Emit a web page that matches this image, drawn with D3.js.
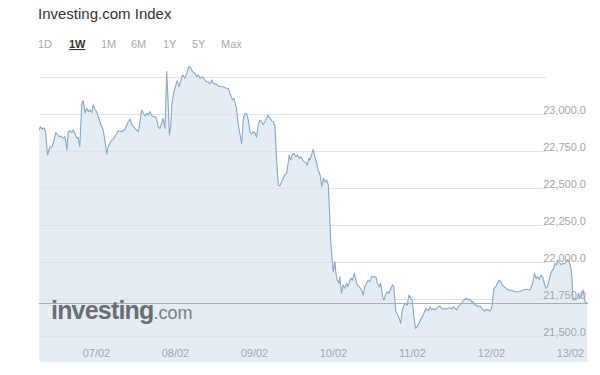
<!DOCTYPE html>
<html>
<head>
<meta charset="utf-8">
<script src="https://cdn.jsdelivr.net/npm/d3@7"></script>
<style>
  body { margin: 0; background: #fff; }
  svg { display: block; }
</style>
</head>
<body>
<script>
// hours since 06/02 00:00
var hours = [
  6.8, 7.1, 7.7, 8.2, 8.7, 9.3, 10.0, 10.7, 11.3, 11.8, 12.4, 12.8,
  13.4, 14.1, 14.6, 15.2, 15.6, 16.1, 16.6, 17.1, 17.6, 18.2, 18.6, 19.1,
  19.7, 20.1, 20.7, 21.2, 21.7, 22.2, 22.7, 23.2, 23.7, 24.2, 25.2, 26.2,
  26.7, 27.3, 27.7, 28.3, 28.8, 29.3, 29.8, 30.8, 31.8, 32.8, 33.6, 34.3,
  35.0, 35.8, 36.4, 36.9, 37.9, 38.4, 38.9, 39.4, 39.9, 40.4, 40.9, 41.4,
  41.9, 42.4, 42.9, 43.4, 44.0, 44.4, 45.0, 45.5, 45.9, 46.3, 46.7, 47.1,
  47.7, 48.3, 48.7, 49.3, 49.7, 50.3, 51.0, 51.6, 52.2, 52.8, 53.4, 54.1,
  54.6, 55.1, 55.6, 56.4, 57.1, 57.6, 58.1, 58.6, 59.2, 59.6, 60.5, 61.2,
  61.9, 62.7, 63.5, 64.2, 64.7, 65.5, 65.9, 66.7, 67.2, 67.7, 68.3, 68.8,
  69.3, 69.8, 70.3, 70.8, 71.3, 71.8, 72.3, 72.8, 73.3, 73.8, 74.3, 74.8,
  75.3, 75.9, 76.3, 76.9, 77.4, 77.9, 78.4, 78.9, 79.4, 79.9, 80.4, 80.9,
  81.4, 81.9, 82.4, 82.7, 83.2, 83.6, 84.2, 84.7, 85.3, 85.8, 86.3, 86.8,
  87.3, 87.8, 88.2, 88.7, 89.0, 89.5, 90.0, 90.5, 91.1, 91.5, 92.1, 92.6,
  93.1, 93.6, 94.1, 94.6, 94.9, 95.3, 95.7, 96.1, 96.6, 96.9, 97.3, 97.8,
  98.1, 98.6, 99.1, 99.6, 100.2, 100.6, 101.4, 101.9, 102.5, 103.0, 103.4, 104.0,
  104.7, 105.2, 105.7, 106.2, 106.7, 107.2, 107.8, 108.5, 109.1, 109.5, 110.1, 110.5,
  111.1, 111.5, 112.0, 112.6, 113.1, 113.6, 114.1, 114.5, 115.1, 115.5, 116.1, 116.6,
  117.1, 117.6, 118.1, 118.6, 119.1, 119.6, 120.1, 120.6, 121.1, 121.6, 122.1, 122.6,
  123.4, 124.3, 125.0, 125.5, 126.0, 126.5, 127.0, 127.5, 128.0, 128.5, 129.0, 129.5,
  130.0, 130.5, 131.0, 131.5, 132.1, 132.5, 133.1, 133.6, 134.1, 134.6, 135.1, 135.6,
  136.1, 136.6, 137.1, 137.6, 138.1, 138.6, 139.1, 139.7, 140.1, 140.7, 141.2, 141.7,
  142.2, 142.7, 143.2, 143.7, 144.2, 144.5, 144.9, 145.5, 146.0, 146.5, 147.0, 147.4,
  148.0, 148.6, 149.3, 149.8, 150.8, 151.8, 152.8, 153.8, 154.8, 155.9, 156.7, 157.2,
  157.7, 158.2, 158.7, 159.2, 159.7, 160.2, 160.7, 161.2, 161.7, 162.2, 162.7, 163.1,
  163.4, 164.0, 164.3, 164.7, 165.3, 165.8, 166.3, 166.8, 167.3, 167.8, 168.2, 168.6,
  168.8, 169.0, 169.5, 169.8, 170.2, 170.6, 171.0, 171.6, 172.0, 172.6, 172.9, 173.3
];

var prices = [
  22892, 22914, 22899, 22907, 22880, 22723, 22777, 22779, 22824, 22874, 22858, 22847,
  22851, 22836, 22847, 22757, 22880, 22887, 22874, 22892, 22870, 22836, 22843, 22779,
  23072, 23090, 23007, 23039, 23016, 23027, 23009, 23061, 23032, 23016, 22948, 22892,
  22824, 22728, 22775, 22806, 22824, 22829, 22851, 22887, 22880, 22897, 22937, 22966,
  22926, 22905, 22892, 22880, 23027, 23005, 22986, 23005, 22993, 23016, 22993, 22982,
  22982, 22971, 22914, 22903, 22937, 22971, 22903, 23286, 23095, 22858, 22914, 23072,
  23151, 23196, 23225, 23184, 23218, 23264, 23241, 23275, 23320, 23309, 23286, 23275,
  23252, 23264, 23241, 23252, 23230, 23218, 23218, 23203, 23230, 23207, 23203, 23189,
  23184, 23184, 23174, 23174, 23140, 23095, 23106, 23039, 22937, 22870, 22802, 22971,
  23005, 23000, 22959, 22880, 22865, 22880, 22874, 22843, 22926, 22959, 22948, 22926,
  22948, 22971, 22993, 22971, 22953, 22948, 22914, 22689, 22520, 22514, 22543, 22566,
  22588, 22599, 22667, 22723, 22689, 22723, 22734, 22711, 22723, 22701, 22711, 22689,
  22678, 22671, 22655, 22701, 22689, 22723, 22761, 22711, 22667, 22622, 22588, 22509,
  22568, 22541, 22554, 22520, 22374, 22149, 22036, 21934, 22002, 21924, 21878, 21856,
  21901, 21789, 21845, 21822, 21856, 21833, 21890, 21878, 21924, 21878, 21845, 21833,
  21811, 21777, 21833, 21856, 21878, 21867, 21901, 21901, 21897, 21856, 21833, 21856,
  21766, 21743, 21777, 21799, 21789, 21822, 21845, 21833, 21664, 21653, 21620, 21586,
  21676, 21709, 21721, 21709, 21777, 21755, 21743, 21630, 21552, 21563, 21586, 21608,
  21642, 21687, 21671, 21698, 21676, 21687, 21676, 21687, 21698, 21703, 21687, 21680,
  21687, 21680, 21687, 21691, 21682, 21698, 21687, 21676, 21698, 21709, 21721, 21739,
  21748, 21755, 21743, 21748, 21732, 21732, 21709, 21709, 21698, 21703, 21687, 21676,
  21669, 21680, 21676, 21669, 21687, 21732, 21822, 21833, 21856, 21878, 21867, 21845,
  21833, 21822, 21811, 21811, 21804, 21797, 21801, 21811, 21816, 21811, 21856, 21924,
  21890, 21901, 21883, 21912, 21901, 21856, 21822, 21833, 21878, 21924, 21946, 21957,
  21991, 21980, 22014, 22002, 21980, 21991, 21987, 22002, 22014, 22002, 21968, 21901,
  21811, 21743, 21755, 21743, 21755, 21789, 21755, 21777, 21811, 21732, 21725, 21721
];

var dayTicks = [24, 48, 72, 96, 120, 144, 168];
var dayLabels = ['07/02', '08/02', '09/02', '10/02', '11/02', '12/02', '13/02'];
var priceTicks = [21500, 21750, 22000, 22250, 22500, 22750, 23000];
var gridTicks = [21500, 21750, 22000, 22250, 22500, 22750, 23000, 23250];
var tabs = ['1D', '1W', '1M', '6M', '1Y', '5Y', 'Max'];
var tabX = [38, 69, 101, 131, 163, 192, 221];

var data = hours.map(function(h, i) {
  return { h: h, p: prices[i] };
});
var last = prices[prices.length - 1];

var plot = { left: 39, right: 588, top: 62, bottom: 362 };

var x = d3.scaleLinear()
  .domain([6.7, 173.5])
  .range([plot.left, plot.right]);

var y = d3.scaleLinear()
  .domain([21500, 23000])
  .range([336, 114]);

var svg = d3.select('body').append('svg')
  .attr('width', 600)
  .attr('height', 375)
  .style('font-family', 'Arial, "Liberation Sans", sans-serif');

svg.append('text')
  .attr('x', 38)
  .attr('y', 19)
  .attr('font-size', '15px')
  .attr('fill', '#333')
  .text('Investing.com Index');

svg.append('g')
  .selectAll('text')
  .data(tabs)
  .enter()
  .append('text')
  .attr('x', function(d, i) { return tabX[i]; })
  .attr('y', 48)
  .attr('font-size', '11px')
  .attr('font-weight', function(d) { return d === '1W' ? 'bold' : 'normal'; })
  .attr('text-decoration', function(d) { return d === '1W' ? 'underline' : 'none'; })
  .attr('fill', function(d) { return d === '1W' ? '#333' : '#aaa'; })
  .text(function(d) { return d; });

// area fill down to the bottom of the panel
var area = d3.area()
  .x(function(d) { return x(d.h); })
  .y0(plot.bottom)
  .y1(function(d) { return y(d.p); });

svg.append('path')
  .datum(data)
  .attr('d', area)
  .attr('fill', '#e5edf4');

// grid lines
svg.append('g')
  .selectAll('line')
  .data(gridTicks)
  .enter()
  .append('line')
  .attr('x1', plot.left)
  .attr('x2', 546)
  .attr('y1', function(d) { return Math.round(y(d)) + 0.5; })
  .attr('y2', function(d) { return Math.round(y(d)) + 0.5; })
  .attr('stroke', '#dfe3e8')
  .attr('stroke-width', 1);

// last price line
svg.append('line')
  .attr('x1', plot.left)
  .attr('x2', plot.right)
  .attr('y1', Math.round(y(last)) + 0.5)
  .attr('y2', Math.round(y(last)) + 0.5)
  .attr('stroke', '#a9aeb4')
  .attr('stroke-width', 1);

// watermark
var mark = svg.append('text')
  .attr('x', 51)
  .attr('y', 319)
  .attr('fill', '#6b6e72');
mark.append('tspan')
  .attr('font-size', '25px')
  .attr('font-weight', 'bold')
  .attr('letter-spacing', '-0.8')
  .text('investing');
mark.append('tspan')
  .attr('font-size', '18px')
  .attr('fill', '#7a7d81')
  .text('.com');

var line = d3.line()
  .x(function(d) { return x(d.h); })
  .y(function(d) { return y(d.p); });

svg.append('path')
  .datum(data)
  .attr('d', line)
  .attr('fill', 'none')
  .attr('stroke', '#84a9c9')
  .attr('stroke-width', 1.1)
  .attr('stroke-linejoin', 'round');

var xAxis = d3.axisBottom(x)
  .tickValues(dayTicks)
  .tickSize(0)
  .tickFormat(function(d, i) { return dayLabels[i]; });

svg.append('g')
  .attr('transform', 'translate(0,346)')
  .call(xAxis)
  .call(function(g) { g.select('.domain').remove(); })
  .selectAll('text')
  .attr('font-size', '11px')
  .attr('font-family', 'Arial, "Liberation Sans", sans-serif')
  .attr('fill', '#a3a6aa');

var yAxis = d3.axisLeft(y)
  .tickValues(priceTicks)
  .tickSize(0)
  .tickPadding(0)
  .tickFormat(d3.format(',.1f'));

svg.append('g')
  .attr('transform', 'translate(586,-4)')
  .call(yAxis)
  .call(function(g) { g.select('.domain').remove(); })
  .selectAll('text')
  .attr('font-size', '11px')
  .attr('font-family', 'Arial, "Liberation Sans", sans-serif')
  .attr('fill', '#a3a6aa');
</script>
</body>
</html>
